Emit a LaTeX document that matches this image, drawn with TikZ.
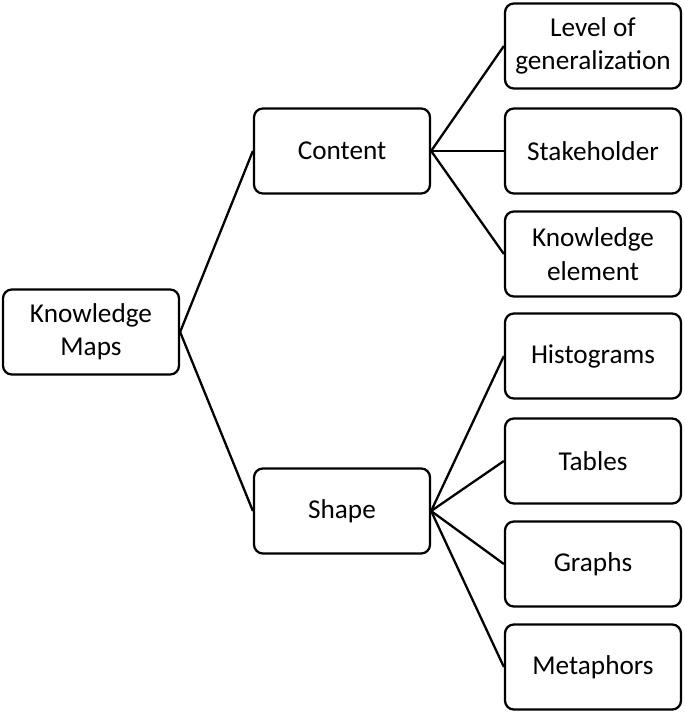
\documentclass[tikz,border=0pt]{standalone}
\usepackage{fontspec}
\setmainfont{Carlito}
\begin{document}
\begin{tikzpicture}[x=0.02cm,y=-0.02cm,
    box/.style={draw, line width=1.3pt, rounded corners=5pt, minimum width=178\pgflinewidth*0+3.52cm,
      minimum height=1.70cm, align=center, font=\fontsize{15.5}{19}\selectfont},
    link/.style={line width=1.3pt}]
    \useasboundingbox (0,0) rectangle (685,713);
    \node[box] (km) at (91,332) {Knowledge\\Maps};
    \node[box] (content) at (342,151) {Content};
    \node[box] (shape) at (342,511) {Shape};
    \node[box] (level) at (593,46) {Level of\\generalization};
    \node[box] (stake) at (593,151) {Stakeholder};
    \node[box] (elem) at (593,254) {Knowledge\\element};
    \node[box] (hist) at (593,356) {Histograms};
    \node[box] (tab) at (593,461) {Tables};
    \node[box] (graph) at (593,564) {Graphs};
    \node[box] (meta) at (593,667) {Metaphors};
    \foreach \t in {content, shape}{
        \draw[link] (km.east) -- (\t.west);
    }
    \foreach \t in {level, stake, elem}{
        \draw[link] (content.east) -- (\t.west);
    }
    \foreach \t in {hist, tab, graph, meta}{
        \draw[link] (shape.east) -- (\t.west);
    }
\end{tikzpicture}
\end{document}
